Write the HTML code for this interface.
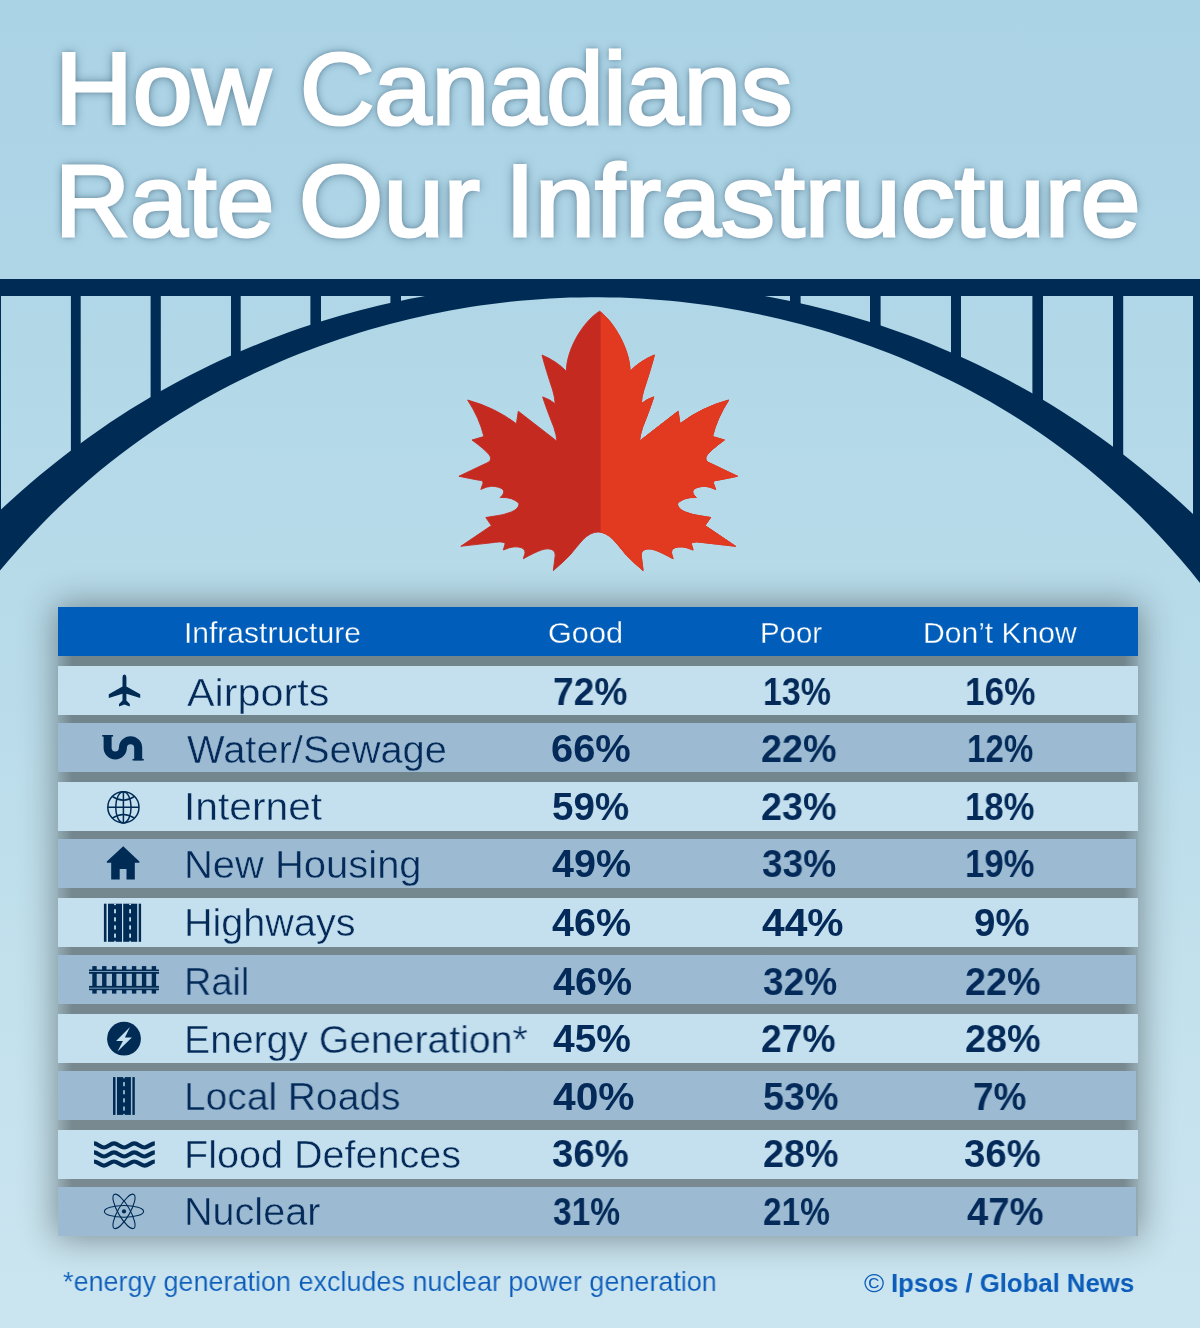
<!DOCTYPE html>
<html><head><meta charset="utf-8"><title>How Canadians Rate Our Infrastructure</title>
<style>
html,body{margin:0;padding:0}
body{width:1200px;height:1328px;position:relative;overflow:hidden;font-family:"Liberation Sans",sans-serif;
background:linear-gradient(180deg,#abd3e6 0px,#afd6e7 260px,#b4d9e8 420px,#badcea 700px,#c3e1ed 1000px,#cbe5f0 1328px)}
.t{will-change:transform;position:absolute;white-space:nowrap;line-height:1;display:inline-block;transform-origin:0 0}
.r{position:absolute}
h1{margin:0;font-weight:normal;font-size:0;line-height:0;position:absolute;left:0;top:0}
.sh{position:absolute;left:58px;top:607px;width:1080px;height:629px;box-shadow:0 0 32px 2px rgba(30,35,35,0.46);
background:linear-gradient(90deg,rgba(25,28,28,0.28) 0,rgba(25,28,28,0.45) 14px,rgba(25,28,28,0.45) 1066px,rgba(25,28,28,0.28) 1080px)}
svg{position:absolute;left:0;top:0}
</style></head><body>
<svg width="1200" height="1328" viewBox="0 0 1200 1328">
<rect x="-5" y="279" width="1210" height="17" fill="#002b55"/>
<rect x="-9" y="290" width="10.0" height="234.9" fill="#002b55"/>
<rect x="70.9" y="290" width="9.8" height="166.6" fill="#002b55"/>
<rect x="150.6" y="290" width="10.2" height="113.0" fill="#002b55"/>
<rect x="231" y="290" width="9.7" height="71.5" fill="#002b55"/>
<rect x="310.4" y="290" width="10.6" height="40.9" fill="#002b55"/>
<rect x="390.4" y="290" width="10.6" height="19.0" fill="#002b55"/>
<rect x="790" y="290" width="10.6" height="19.4" fill="#002b55"/>
<rect x="870" y="290" width="10.6" height="41.5" fill="#002b55"/>
<rect x="951" y="290" width="10.0" height="72.8" fill="#002b55"/>
<rect x="1032.4" y="290" width="10.6" height="115.8" fill="#002b55"/>
<rect x="1113" y="290" width="10.2" height="170.5" fill="#002b55"/>
<rect x="1193" y="290" width="10.0" height="239.7" fill="#002b55"/>
<polygon points="-10,519.9 0,510.4 10,501.2 20,492.3 30,483.6 40,475.1 50,466.9 60,459.0 70,451.3 80,443.8 90,436.5 100,429.5 110,422.6 120,416.0 130,409.6 140,403.4 150,397.4 160,391.6 170,385.9 180,380.5 190,375.2 200,370.2 210,365.2 220,360.5 230,355.9 240,351.5 250,347.3 260,343.2 270,339.3 280,335.5 290,331.8 300,328.3 310,325.0 320,321.8 330,318.7 340,315.8 350,313.0 360,310.3 370,307.8 380,305.3 390,303.0 400,300.9 410,298.8 420,296.9 430,295.1 440,293.4 450,291.8 460,290.3 470,288.9 480,287.7 490,286.5 500,285.5 510,284.6 520,283.7 530,283.0 540,282.4 550,281.9 560,281.5 570,281.2 580,281.0 590,280.9 600,280.9 610,281.0 620,281.2 630,281.5 640,281.9 650,282.5 660,283.1 670,283.8 680,284.7 690,285.6 700,286.6 710,287.8 720,289.1 730,290.4 740,291.9 750,293.5 760,295.2 770,297.1 780,299.0 790,301.1 800,303.3 810,305.6 820,308.0 830,310.6 840,313.3 850,316.1 860,319.0 870,322.1 880,325.3 890,328.7 900,332.2 910,335.8 920,339.6 930,343.6 940,347.7 950,352.0 960,356.4 970,361.0 980,365.7 990,370.7 1000,375.8 1010,381.0 1020,386.5 1030,392.1 1040,398.0 1050,404.0 1060,410.2 1070,416.7 1080,423.3 1090,430.2 1100,437.2 1110,444.5 1120,452.0 1130,459.8 1140,467.7 1150,476.0 1160,484.4 1170,493.1 1180,502.1 1190,511.3 1200,520.8 1210,530.6 1210,595.7 1200,582.9 1190,570.6 1180,558.8 1170,547.4 1160,536.5 1150,526.0 1140,515.8 1130,506.1 1120,496.7 1110,487.7 1100,479.0 1090,470.6 1080,462.5 1070,454.7 1060,447.2 1050,440.0 1040,433.0 1030,426.3 1020,419.8 1010,413.5 1000,407.4 990,401.6 980,396.0 970,390.6 960,385.3 950,380.3 940,375.4 930,370.7 920,366.2 910,361.8 900,357.6 890,353.6 880,349.7 870,346.0 860,342.5 850,339.0 840,335.8 830,332.6 820,329.6 810,326.8 800,324.1 790,321.5 780,319.0 770,316.7 760,314.5 750,312.5 740,310.6 730,308.8 720,307.1 710,305.6 700,304.2 690,303.0 680,301.8 670,300.8 660,299.9 650,299.2 640,298.5 630,298.0 620,297.6 610,297.4 600,297.3 590,297.3 580,297.4 570,297.6 560,298.0 550,298.5 540,299.2 530,299.9 520,300.8 510,301.8 500,303.0 490,304.2 480,305.6 470,307.1 460,308.8 450,310.6 440,312.5 430,314.5 420,316.7 410,319.0 400,321.5 390,324.1 380,326.8 370,329.6 360,332.6 350,335.8 340,339.0 330,342.5 320,346.0 310,349.7 300,353.6 290,357.6 280,361.8 270,366.2 260,370.7 250,375.4 240,380.3 230,385.3 220,390.6 210,396.0 200,401.6 190,407.4 180,413.5 170,419.8 160,426.3 150,433.0 140,440.0 130,447.2 120,454.7 110,462.5 100,470.6 90,479.0 80,487.7 70,496.7 60,506.1 50,515.8 40,526.0 30,536.5 20,547.4 10,558.8 0,570.6 -10,582.9" fill="#002b55"/>
<path d="M599.60,311.20 C614.00,322.00 630.00,350.00 630.00,371.25 Q640.00,361.00 654.40,355.00 Q650.50,370.00 643.75,390.00 Q641.50,397.00 641.25,403.75 Q647.00,399.00 653.75,396.90 Q651.00,406.00 642.50,427.50 Q640.00,435.00 639.40,441.25 L678.10,411.25 L680.00,423.75 Q701.25,407.50 728.75,400.00 Q717.00,418.00 712.50,436.50 L724.40,440.00 Q712.00,449.00 707.00,455.00 Q703.00,461.00 711.25,463.75 L737.50,476.25 Q722.00,479.50 715.00,480.60 Q712.80,481.20 713.50,483.50 L715.60,489.40 Q710.00,486.60 705.00,486.25 Q697.00,486.50 693.50,489.50 Q691.00,493.00 696.25,497.50 Q690.00,497.00 685.00,498.75 Q677.00,502.00 677.50,504.60 Q678.00,509.00 685.00,511.90 Q693.00,515.00 698.75,515.60 L710.60,517.50 L705.00,525.60 L735.60,546.25 Q715.00,544.00 701.00,542.30 Q692.50,541.00 691.25,543.75 L693.10,550.00 Q686.00,547.00 682.50,546.90 Q673.50,546.50 671.80,550.50 Q671.00,552.50 671.80,554.50 L673.10,558.75 Q662.00,552.50 655.00,550.00 Q647.00,547.50 643.00,550.50 Q640.80,552.50 641.25,556.00 L643.10,570.60 Q634.00,563.00 626.25,555.00 Q619.00,546.00 613.75,540.00 Q606.00,532.00 598.20,532.00 Q590.40,532.00 582.65,540.00 Q577.40,546.00 570.15,555.00 Q562.40,563.00 553.30,570.60 L555.15,556.00 Q555.60,552.50 553.40,550.50 Q549.40,547.50 541.40,550.00 Q534.40,552.50 523.30,558.75 L524.60,554.50 Q525.40,552.50 524.60,550.50 Q522.90,546.50 513.90,546.90 Q510.40,547.00 503.30,550.00 L505.15,543.75 Q503.90,541.00 495.40,542.30 Q481.40,544.00 460.80,546.25 L491.40,525.60 L485.80,517.50 L497.65,515.60 Q503.40,515.00 511.40,511.90 Q518.40,509.00 518.90,504.60 Q519.40,502.00 511.40,498.75 Q506.40,497.00 500.15,497.50 Q505.40,493.00 502.90,489.50 Q499.40,486.50 491.40,486.25 Q486.40,486.60 480.80,489.40 L482.90,483.50 Q483.60,481.20 481.40,480.60 Q474.40,479.50 458.90,476.25 L485.15,463.75 Q493.40,461.00 489.40,455.00 Q484.40,449.00 472.00,440.00 L483.90,436.50 Q479.40,418.00 467.65,400.00 Q495.15,407.50 516.40,423.75 L518.30,411.25 L557.00,441.25 Q556.40,435.00 553.90,427.50 Q545.40,406.00 542.65,396.90 Q549.40,399.00 555.15,403.75 Q554.90,397.00 552.65,390.00 Q545.90,370.00 542.00,355.00 Q556.40,361.00 566.40,371.25 C566.40,350.00 582.40,322.00 599.60,311.20 Z" fill="#c52a21" stroke="#c52a21" stroke-width="0.9" stroke-linejoin="round"/><clipPath id="rh"><rect x="600.6" y="300" width="200" height="300"/></clipPath><path d="M599.60,311.20 C614.00,322.00 630.00,350.00 630.00,371.25 Q640.00,361.00 654.40,355.00 Q650.50,370.00 643.75,390.00 Q641.50,397.00 641.25,403.75 Q647.00,399.00 653.75,396.90 Q651.00,406.00 642.50,427.50 Q640.00,435.00 639.40,441.25 L678.10,411.25 L680.00,423.75 Q701.25,407.50 728.75,400.00 Q717.00,418.00 712.50,436.50 L724.40,440.00 Q712.00,449.00 707.00,455.00 Q703.00,461.00 711.25,463.75 L737.50,476.25 Q722.00,479.50 715.00,480.60 Q712.80,481.20 713.50,483.50 L715.60,489.40 Q710.00,486.60 705.00,486.25 Q697.00,486.50 693.50,489.50 Q691.00,493.00 696.25,497.50 Q690.00,497.00 685.00,498.75 Q677.00,502.00 677.50,504.60 Q678.00,509.00 685.00,511.90 Q693.00,515.00 698.75,515.60 L710.60,517.50 L705.00,525.60 L735.60,546.25 Q715.00,544.00 701.00,542.30 Q692.50,541.00 691.25,543.75 L693.10,550.00 Q686.00,547.00 682.50,546.90 Q673.50,546.50 671.80,550.50 Q671.00,552.50 671.80,554.50 L673.10,558.75 Q662.00,552.50 655.00,550.00 Q647.00,547.50 643.00,550.50 Q640.80,552.50 641.25,556.00 L643.10,570.60 Q634.00,563.00 626.25,555.00 Q619.00,546.00 613.75,540.00 Q606.00,532.00 598.20,532.00 Q590.40,532.00 582.65,540.00 Q577.40,546.00 570.15,555.00 Q562.40,563.00 553.30,570.60 L555.15,556.00 Q555.60,552.50 553.40,550.50 Q549.40,547.50 541.40,550.00 Q534.40,552.50 523.30,558.75 L524.60,554.50 Q525.40,552.50 524.60,550.50 Q522.90,546.50 513.90,546.90 Q510.40,547.00 503.30,550.00 L505.15,543.75 Q503.90,541.00 495.40,542.30 Q481.40,544.00 460.80,546.25 L491.40,525.60 L485.80,517.50 L497.65,515.60 Q503.40,515.00 511.40,511.90 Q518.40,509.00 518.90,504.60 Q519.40,502.00 511.40,498.75 Q506.40,497.00 500.15,497.50 Q505.40,493.00 502.90,489.50 Q499.40,486.50 491.40,486.25 Q486.40,486.60 480.80,489.40 L482.90,483.50 Q483.60,481.20 481.40,480.60 Q474.40,479.50 458.90,476.25 L485.15,463.75 Q493.40,461.00 489.40,455.00 Q484.40,449.00 472.00,440.00 L483.90,436.50 Q479.40,418.00 467.65,400.00 Q495.15,407.50 516.40,423.75 L518.30,411.25 L557.00,441.25 Q556.40,435.00 553.90,427.50 Q545.40,406.00 542.65,396.90 Q549.40,399.00 555.15,403.75 Q554.90,397.00 552.65,390.00 Q545.90,370.00 542.00,355.00 Q556.40,361.00 566.40,371.25 C566.40,350.00 582.40,322.00 599.60,311.20 Z" fill="#e23a20" stroke="#e23a20" stroke-width="0.9" stroke-linejoin="round" clip-path="url(#rh)"/>
</svg>
<div class="sh"></div>
<div class="r" style="left:58px;top:607px;width:1080px;height:48.8px;background:#005eba"></div>
<div class="r" style="left:58px;top:665.9px;width:1080px;height:49.0px;background:#c4dfee"></div>
<div class="r" style="left:58px;top:723px;width:1078px;height:49.0px;background:#9cbbd3"></div>
<div class="r" style="left:58px;top:781.9px;width:1080px;height:49.0px;background:#c4dfee"></div>
<div class="r" style="left:58px;top:839px;width:1078px;height:49.0px;background:#9cbbd3"></div>
<div class="r" style="left:58px;top:897.9px;width:1080px;height:49.0px;background:#c4dfee"></div>
<div class="r" style="left:58px;top:955px;width:1078px;height:49.0px;background:#9cbbd3"></div>
<div class="r" style="left:58px;top:1013.9px;width:1080px;height:49.0px;background:#c4dfee"></div>
<div class="r" style="left:58px;top:1071px;width:1078px;height:49.0px;background:#9cbbd3"></div>
<div class="r" style="left:58px;top:1129.9px;width:1080px;height:49.0px;background:#c4dfee"></div>
<div class="r" style="left:58px;top:1187px;width:1078px;height:49.0px;background:#9cbbd3"></div>
<svg width="1200" height="1328" viewBox="0 0 1200 1328">
<path d="M124.4,674.6 Q126.4,674.8 126.4,677.5 L126.4,686.6 L140.2,694.2 L140.2,697.9 L126.4,693.7 L126.4,700.4 L129.8,704 L129.8,706.4 L124.4,704.4 L119.0,706.4 L119.0,704 L122.5,700.4 L122.5,693.7 L108.8,697.9 L108.8,694.2 L122.5,686.6 L122.5,677.5 Q122.5,674.8 124.4,674.6 Z" fill="#002b55"/>
<path d="M107.6,735.2 V747.8 A7.65,7.65 0 0 0 122.9,747.8 A7.65,7.65 0 0 1 138.2,747.8 V760.2" fill="none" stroke="#002b55" stroke-width="8"/>
<rect x="102.2" y="735" width="10.9" height="1.6" fill="#002b55"/><rect x="132.5" y="758.9" width="11.3" height="1.6" fill="#002b55"/>
<g fill="none" stroke="#002b55" stroke-width="1.5"><circle cx="123.4" cy="807.3" r="15.6"/><ellipse cx="123.4" cy="807.3" rx="7.7" ry="15.6"/><path d="M123.4,791.6999999999999 V822.9 M107.80000000000001,807.3 H139.0"/><path d="M112.2,796.4 Q123.4,803.9 134.6,796.4"/><path d="M112.2,818.1999999999999 Q123.4,810.6999999999999 134.6,818.1999999999999"/></g>
<path d="M123.2,846.2 L139.4,861.4 L139.4,862.7 L134.8,862.7 L134.8,879.5 L126.5,879.5 L126.5,869 L119.7,869 L119.7,879.5 L111.2,879.5 L111.2,862.7 L106.8,862.7 L106.8,861.4 Z" fill="#002b55"/>
<g fill="#002b55"><rect x="103.9" y="903.7" width="2.6" height="38.1"/><rect x="108" y="903.7" width="14" height="38.1"/><rect x="123.2" y="903.7" width="14" height="38.1"/><rect x="138.7" y="903.7" width="2.4" height="38.1"/></g><g fill="#c4dfee"><rect x="114.1" y="909.2" width="1.8" height="4.1"/><rect x="114.1" y="917.3" width="1.8" height="4.1"/><rect x="114.1" y="925.4" width="1.8" height="4.1"/><rect x="114.1" y="933.6" width="1.8" height="4.1"/><rect x="114.1" y="903.7" width="1.8" height="1.4"/><rect x="114.1" y="940.8" width="1.8" height="1"/><rect x="129.2" y="909.2" width="1.8" height="4.1"/><rect x="129.2" y="917.3" width="1.8" height="4.1"/><rect x="129.2" y="925.4" width="1.8" height="4.1"/><rect x="129.2" y="933.6" width="1.8" height="4.1"/><rect x="129.2" y="903.7" width="1.8" height="1.4"/><rect x="129.2" y="940.8" width="1.8" height="1"/></g>
<g fill="#002b55"><rect x="92.3" y="966.1" width="4.4" height="27.5"/><rect x="102.1" y="966.1" width="4.4" height="27.5"/><rect x="112.0" y="966.1" width="4.4" height="27.5"/><rect x="122.0" y="966.1" width="4.4" height="27.5"/><rect x="131.9" y="966.1" width="4.4" height="27.5"/><rect x="141.9" y="966.1" width="4.4" height="27.5"/><rect x="151.7" y="966.1" width="4.4" height="27.5"/><rect x="89" y="969.5" width="70" height="4.3"/><rect x="89" y="985.9" width="70" height="4.3"/></g><g fill="#9cbbd3" opacity="0.85"><rect x="89" y="971.1" width="70" height="0.9"/><rect x="89" y="987.7" width="70" height="0.9"/></g>
<circle cx="124" cy="1038.7" r="16.9" fill="#002b55"/><path d="M130,1027 L116.1,1041 L122.9,1041 L117.5,1051.4 L131.9,1037.4 L124.9,1037.4 Z" fill="#c4dfee"/>
<g fill="#002b55"><rect x="113" y="1077.1" width="2.5" height="37.8"/><rect x="117" y="1077.1" width="13.9" height="37.8"/><rect x="132.4" y="1077.1" width="2.4" height="37.8"/></g><g fill="#9cbbd3"><rect x="123.1" y="1082.1" width="1.8" height="4.1"/><rect x="123.1" y="1090.2" width="1.8" height="4.1"/><rect x="123.1" y="1098.3" width="1.8" height="4.1"/><rect x="123.1" y="1106.5" width="1.8" height="4.1"/><rect x="123.1" y="1077.1" width="1.8" height="1.2"/><rect x="123.1" y="1113.9" width="1.8" height="1"/></g>
<g fill="none" stroke="#002b55" stroke-width="4.2"><path d="M94.0,1143.3 C97.6,1143.3 100.4,1147.5 104.0,1147.5 C107.6,1147.5 110.4,1143.3 114.0,1143.3 C117.6,1143.3 120.6,1147.5 124.2,1147.5 C127.8,1147.5 130.7,1143.3 134.3,1143.3 C137.9,1143.3 140.9,1147.5 144.5,1147.5 C148.1,1147.5 151.2,1143.3 154.8,1143.3"/><path d="M94.0,1152.3 C97.6,1152.3 100.4,1156.5 104.0,1156.5 C107.6,1156.5 110.4,1152.3 114.0,1152.3 C117.6,1152.3 120.6,1156.5 124.2,1156.5 C127.8,1156.5 130.7,1152.3 134.3,1152.3 C137.9,1152.3 140.9,1156.5 144.5,1156.5 C148.1,1156.5 151.2,1152.3 154.8,1152.3"/><path d="M94.0,1161.5 C97.6,1161.5 100.4,1165.7 104.0,1165.7 C107.6,1165.7 110.4,1161.5 114.0,1161.5 C117.6,1161.5 120.6,1165.7 124.2,1165.7 C127.8,1165.7 130.7,1161.5 134.3,1161.5 C137.9,1161.5 140.9,1165.7 144.5,1165.7 C148.1,1165.7 151.2,1161.5 154.8,1161.5"/></g>
<g fill="none" stroke="#002b55" stroke-width="1.1"><ellipse cx="124" cy="1211.4" rx="19.6" ry="5.9" transform="rotate(0 124 1211.4)"/><ellipse cx="124" cy="1211.4" rx="19.6" ry="5.9" transform="rotate(60 124 1211.4)"/><ellipse cx="124" cy="1211.4" rx="19.6" ry="5.9" transform="rotate(120 124 1211.4)"/></g><circle cx="124" cy="1211.4" r="2.1" fill="#002b55"/>
</svg>
<h1><span class="t" style="left:54.86px;top:38.49px;font-size:102.2px;color:#ffffff;transform:scaleX(1.0538);-webkit-text-stroke:3.0px #ffffff;text-shadow:0 0 10px rgba(20,50,75,0.6),0 0 5px rgba(20,50,75,0.3);">How</span> <span class="t" style="left:299.66px;top:38.49px;font-size:102.2px;color:#ffffff;transform:scaleX(1.0078);-webkit-text-stroke:3.0px #ffffff;text-shadow:0 0 10px rgba(20,50,75,0.6),0 0 5px rgba(20,50,75,0.3);">Canadians</span><br><span class="t" style="left:55.12px;top:150.49px;font-size:102.2px;color:#ffffff;transform:scaleX(1.0160);-webkit-text-stroke:3.0px #ffffff;text-shadow:0 0 10px rgba(20,50,75,0.6),0 0 5px rgba(20,50,75,0.3);">Rate</span> <span class="t" style="left:299.41px;top:150.49px;font-size:102.2px;color:#ffffff;transform:scaleX(1.0619);-webkit-text-stroke:3.0px #ffffff;text-shadow:0 0 10px rgba(20,50,75,0.6),0 0 5px rgba(20,50,75,0.3);">Our</span> <span class="t" style="left:505.17px;top:150.49px;font-size:102.2px;color:#ffffff;transform:scaleX(1.0558);-webkit-text-stroke:3.0px #ffffff;text-shadow:0 0 10px rgba(20,50,75,0.6),0 0 5px rgba(20,50,75,0.3);">Infrastructure</span></h1>
<span class="t" style="left:184.00px;top:619.15px;font-size:29px;color:#ffffff;transform:scaleX(1.0351);-webkit-text-stroke:0.3px #005eba;">Infrastructure</span>
<span class="t" style="left:547.67px;top:619.15px;font-size:29px;color:#ffffff;transform:scaleX(1.0573);-webkit-text-stroke:0.3px #005eba;">Good</span>
<span class="t" style="left:760.25px;top:619.15px;font-size:29px;color:#ffffff;transform:scaleX(1.0144);-webkit-text-stroke:0.3px #005eba;">Poor</span>
<span class="t" style="left:922.89px;top:619.15px;font-size:29px;color:#ffffff;transform:scaleX(1.0372);-webkit-text-stroke:0.3px #005eba;">Don’t Know</span>
<span class="t" style="left:187.30px;top:672.92px;font-size:39.2px;color:#032a58;transform:scaleX(1.0547);-webkit-text-stroke:0.45px #c4dfee;">Airports</span>
<span class="t" style="left:187.30px;top:729.52px;font-size:39.2px;color:#032a58;transform:scaleX(1.0172);-webkit-text-stroke:0.45px #9cbbd3;">Water/Sewage</span>
<span class="t" style="left:183.63px;top:787.22px;font-size:39.2px;color:#032a58;transform:scaleX(1.0395);-webkit-text-stroke:0.45px #c4dfee;">Internet</span>
<span class="t" style="left:184.10px;top:844.52px;font-size:39.2px;color:#032a58;transform:scaleX(1.0193);-webkit-text-stroke:0.45px #9cbbd3;">New Housing</span>
<span class="t" style="left:184.13px;top:903.22px;font-size:39.2px;color:#032a58;transform:scaleX(1.0095);-webkit-text-stroke:0.45px #c4dfee;">Highways</span>
<span class="t" style="left:184.26px;top:962.22px;font-size:39.2px;color:#032a58;transform:scaleX(0.9684);-webkit-text-stroke:0.45px #9cbbd3;">Rail</span>
<span class="t" style="left:184.17px;top:1019.52px;font-size:39.2px;color:#032a58;transform:scaleX(0.9982);-webkit-text-stroke:0.45px #c4dfee;">Energy Generation*</span>
<span class="t" style="left:184.18px;top:1077.22px;font-size:39.2px;color:#032a58;transform:scaleX(0.9934);-webkit-text-stroke:0.45px #9cbbd3;">Local Roads</span>
<span class="t" style="left:184.13px;top:1134.52px;font-size:39.2px;color:#032a58;transform:scaleX(1.0098);-webkit-text-stroke:0.45px #c4dfee;">Flood Defences</span>
<span class="t" style="left:184.13px;top:1192.22px;font-size:39.2px;color:#032a58;transform:scaleX(1.0097);-webkit-text-stroke:0.45px #9cbbd3;">Nuclear</span>
<span class="t" style="left:552.51px;top:673.43px;font-size:38.6px;color:#032a58;transform:scaleX(0.9628);font-weight:bold;">72%</span>
<span class="t" style="left:551.10px;top:730.03px;font-size:38.6px;color:#032a58;transform:scaleX(1.0337);font-weight:bold;">66%</span>
<span class="t" style="left:552.34px;top:787.73px;font-size:38.6px;color:#032a58;transform:scaleX(0.9978);font-weight:bold;">59%</span>
<span class="t" style="left:551.91px;top:845.03px;font-size:38.6px;color:#032a58;transform:scaleX(1.0232);font-weight:bold;">49%</span>
<span class="t" style="left:551.91px;top:903.73px;font-size:38.6px;color:#032a58;transform:scaleX(1.0232);font-weight:bold;">46%</span>
<span class="t" style="left:552.91px;top:962.73px;font-size:38.6px;color:#032a58;transform:scaleX(1.0232);font-weight:bold;">46%</span>
<span class="t" style="left:552.92px;top:1020.03px;font-size:38.6px;color:#032a58;transform:scaleX(1.0100);font-weight:bold;">45%</span>
<span class="t" style="left:552.89px;top:1077.73px;font-size:38.6px;color:#032a58;transform:scaleX(1.0562);font-weight:bold;">40%</span>
<span class="t" style="left:551.73px;top:1135.03px;font-size:38.6px;color:#032a58;transform:scaleX(0.9927);font-weight:bold;">36%</span>
<span class="t" style="left:552.83px;top:1192.73px;font-size:38.6px;color:#032a58;transform:scaleX(0.8670);font-weight:bold;">31%</span>
<span class="t" style="left:762.97px;top:673.43px;font-size:38.6px;color:#032a58;transform:scaleX(0.8783);font-weight:bold;">13%</span>
<span class="t" style="left:761.37px;top:730.03px;font-size:38.6px;color:#032a58;transform:scaleX(0.9778);font-weight:bold;">22%</span>
<span class="t" style="left:761.37px;top:787.73px;font-size:38.6px;color:#032a58;transform:scaleX(0.9778);font-weight:bold;">23%</span>
<span class="t" style="left:761.76px;top:845.03px;font-size:38.6px;color:#032a58;transform:scaleX(0.9596);font-weight:bold;">33%</span>
<span class="t" style="left:761.89px;top:903.73px;font-size:38.6px;color:#032a58;transform:scaleX(1.0562);font-weight:bold;">44%</span>
<span class="t" style="left:762.76px;top:962.73px;font-size:38.6px;color:#032a58;transform:scaleX(0.9596);font-weight:bold;">32%</span>
<span class="t" style="left:761.38px;top:1020.03px;font-size:38.6px;color:#032a58;transform:scaleX(0.9645);font-weight:bold;">27%</span>
<span class="t" style="left:762.87px;top:1077.73px;font-size:38.6px;color:#032a58;transform:scaleX(0.9778);font-weight:bold;">53%</span>
<span class="t" style="left:762.87px;top:1135.03px;font-size:38.6px;color:#032a58;transform:scaleX(0.9778);font-weight:bold;">28%</span>
<span class="t" style="left:762.50px;top:1192.73px;font-size:38.6px;color:#032a58;transform:scaleX(0.8648);font-weight:bold;">21%</span>
<span class="t" style="left:965.39px;top:673.43px;font-size:38.6px;color:#032a58;transform:scaleX(0.9121);font-weight:bold;">16%</span>
<span class="t" style="left:967.01px;top:730.03px;font-size:38.6px;color:#032a58;transform:scaleX(0.8580);font-weight:bold;">12%</span>
<span class="t" style="left:965.42px;top:787.73px;font-size:38.6px;color:#032a58;transform:scaleX(0.8986);font-weight:bold;">18%</span>
<span class="t" style="left:965.42px;top:845.03px;font-size:38.6px;color:#032a58;transform:scaleX(0.8986);font-weight:bold;">19%</span>
<span class="t" style="left:973.85px;top:903.73px;font-size:38.6px;color:#032a58;transform:scaleX(0.9963);font-weight:bold;">9%</span>
<span class="t" style="left:965.37px;top:962.73px;font-size:38.6px;color:#032a58;transform:scaleX(0.9778);font-weight:bold;">22%</span>
<span class="t" style="left:965.37px;top:1020.03px;font-size:38.6px;color:#032a58;transform:scaleX(0.9778);font-weight:bold;">28%</span>
<span class="t" style="left:972.52px;top:1077.73px;font-size:38.6px;color:#032a58;transform:scaleX(0.9566);font-weight:bold;">7%</span>
<span class="t" style="left:964.23px;top:1135.03px;font-size:38.6px;color:#032a58;transform:scaleX(0.9927);font-weight:bold;">36%</span>
<span class="t" style="left:966.93px;top:1192.73px;font-size:38.6px;color:#032a58;transform:scaleX(0.9902);font-weight:bold;">47%</span>
<span class="t" style="left:62.80px;top:1268.30px;font-size:28px;color:#0c5cb9;transform:scaleX(0.9634);-webkit-text-stroke:0.15px #c9e4ef;">*energy generation excludes nuclear power generation</span>
<span class="t" style="left:864.19px;top:1269.99px;font-size:26px;color:#0c5cb9;transform:scaleX(1.0563);">©</span>
<span class="t" style="left:891.43px;top:1269.65px;font-size:26.4px;color:#0c5cb9;transform:scaleX(0.9752);font-weight:bold;">Ipsos / Global News</span>
</body></html>
